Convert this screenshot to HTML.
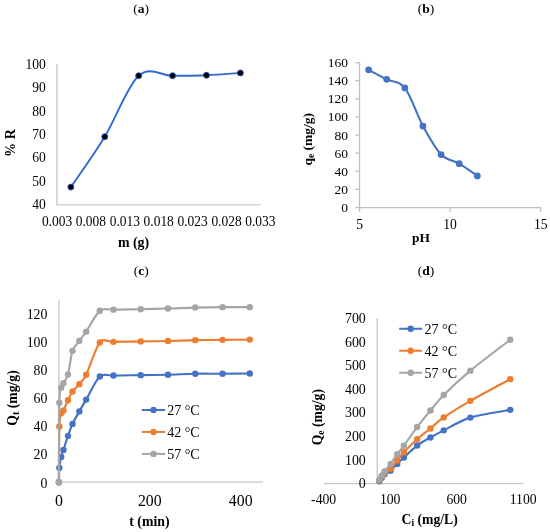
<!DOCTYPE html>
<html><head><meta charset="utf-8"><title>Figure</title>
<style>html,body{margin:0;padding:0;background:#fff}svg{display:block}text{font-family:"Liberation Serif", serif;fill:#000}</style>
</head><body>
<svg width="550" height="532" viewBox="0 0 550 532">
<rect width="550" height="532" fill="#fff"/>
<path d="M57.00 64.00 V205.50" fill="none" stroke="#d9d9d9" stroke-width="2"/>
<path d="M56.00 204.80 H261.00" fill="none" stroke="#d6d6d6" stroke-width="1.6"/>
<text x="0.00" y="0.00" font-size="14.5" text-anchor="end" transform="translate(45.70 209.30) scale(0.935 1)">40</text>
<text x="0.00" y="0.00" font-size="14.5" text-anchor="end" transform="translate(45.70 185.85) scale(0.935 1)">50</text>
<text x="0.00" y="0.00" font-size="14.5" text-anchor="end" transform="translate(45.70 162.40) scale(0.935 1)">60</text>
<text x="0.00" y="0.00" font-size="14.5" text-anchor="end" transform="translate(45.70 138.95) scale(0.935 1)">70</text>
<text x="0.00" y="0.00" font-size="14.5" text-anchor="end" transform="translate(45.70 115.50) scale(0.935 1)">80</text>
<text x="0.00" y="0.00" font-size="14.5" text-anchor="end" transform="translate(45.70 92.05) scale(0.935 1)">90</text>
<text x="0.00" y="0.00" font-size="14.5" text-anchor="end" transform="translate(45.70 68.60) scale(0.935 1)">100</text>
<text x="0.00" y="0.00" font-size="14.4" text-anchor="middle" transform="translate(57.00 225.80) scale(0.935 1)">0.003</text>
<text x="0.00" y="0.00" font-size="14.4" text-anchor="middle" transform="translate(90.90 225.80) scale(0.935 1)">0.008</text>
<text x="0.00" y="0.00" font-size="14.4" text-anchor="middle" transform="translate(124.80 225.80) scale(0.935 1)">0.013</text>
<text x="0.00" y="0.00" font-size="14.4" text-anchor="middle" transform="translate(158.70 225.80) scale(0.935 1)">0.018</text>
<text x="0.00" y="0.00" font-size="14.4" text-anchor="middle" transform="translate(192.60 225.80) scale(0.935 1)">0.023</text>
<text x="0.00" y="0.00" font-size="14.4" text-anchor="middle" transform="translate(226.50 225.80) scale(0.935 1)">0.028</text>
<text x="0.00" y="0.00" font-size="14.4" text-anchor="middle" transform="translate(260.40 225.80) scale(0.935 1)">0.033</text>
<text x="133.50" y="246.80" font-size="13.9" text-anchor="middle" font-weight="bold">m (g)</text>
<text x="14.80" y="143.10" font-size="14.2" text-anchor="middle" font-weight="bold" transform="rotate(-90 14.80 143.10)">% R</text>
<path d="M70.86 187.11 C76.51 178.71 93.46 155.26 104.76 136.69 C116.06 118.13 127.36 85.89 138.66 75.72 C149.96 65.56 161.26 75.80 172.56 75.72 C183.86 75.65 195.16 75.73 206.46 75.26 C217.76 74.79 234.71 73.30 240.36 72.91" fill="none" stroke="#2f6bd0" stroke-width="1.9"/>
<circle cx="70.86" cy="187.11" r="3.0" fill="#000" stroke="#2a55c0" stroke-width="0.9"/>
<circle cx="104.76" cy="136.69" r="3.0" fill="#000" stroke="#2a55c0" stroke-width="0.9"/>
<circle cx="138.66" cy="75.72" r="3.0" fill="#000" stroke="#2a55c0" stroke-width="0.9"/>
<circle cx="172.56" cy="75.72" r="3.0" fill="#000" stroke="#2a55c0" stroke-width="0.9"/>
<circle cx="206.46" cy="75.26" r="3.0" fill="#000" stroke="#2a55c0" stroke-width="0.9"/>
<circle cx="240.36" cy="72.91" r="3.0" fill="#000" stroke="#2a55c0" stroke-width="0.9"/>
<text x="141.20" y="13.20" font-size="13.5" text-anchor="middle">(<tspan font-weight="bold">a</tspan>)</text>
<path d="M359.55 62.60 V207.60 H540.70 M359.55 207.60 h-4.3 M359.55 189.47 h-4.3 M359.55 171.35 h-4.3 M359.55 153.22 h-4.3 M359.55 135.10 h-4.3 M359.55 116.97 h-4.3 M359.55 98.85 h-4.3 M359.55 80.72 h-4.3 M359.55 62.60 h-4.3 M359.55 207.60 v4.3 M450.12 207.60 v4.3 M540.70 207.60 v4.3" fill="none" stroke="#bfbfbf" stroke-width="1.3"/>
<text x="348.10" y="212.10" font-size="13.5" text-anchor="end">0</text>
<text x="348.10" y="193.97" font-size="13.5" text-anchor="end">20</text>
<text x="348.10" y="175.85" font-size="13.5" text-anchor="end">40</text>
<text x="348.10" y="157.72" font-size="13.5" text-anchor="end">60</text>
<text x="348.10" y="139.60" font-size="13.5" text-anchor="end">80</text>
<text x="348.10" y="121.47" font-size="13.5" text-anchor="end">100</text>
<text x="348.10" y="103.35" font-size="13.5" text-anchor="end">120</text>
<text x="348.10" y="85.22" font-size="13.5" text-anchor="end">140</text>
<text x="348.10" y="67.10" font-size="13.5" text-anchor="end">160</text>
<text x="359.55" y="228.50" font-size="13.6" text-anchor="middle">5</text>
<text x="450.12" y="228.50" font-size="13.6" text-anchor="middle">10</text>
<text x="540.70" y="228.50" font-size="13.6" text-anchor="middle">15</text>
<text x="421.00" y="241.70" font-size="13.4" text-anchor="middle" font-weight="bold">pH</text>
<text x="311.80" y="139.20" font-size="13.5" text-anchor="middle" font-weight="bold" transform="rotate(-90 311.80 139.20)">q<tspan font-size="9.5" dy="2.2">e</tspan><tspan dy="-2.2"> (mg/g)</tspan></text>
<path d="M368.61 69.85 C371.63 71.44 380.68 76.34 386.72 79.37 C392.76 82.39 398.80 80.20 404.84 87.97 C410.88 95.75 416.91 114.94 422.95 126.04 C428.99 137.14 435.03 148.32 441.07 154.58 C447.11 160.85 453.14 160.10 459.18 163.65 C465.22 167.20 474.28 173.84 477.30 175.88" fill="none" stroke="#4472c4" stroke-width="2.1"/>
<circle cx="368.61" cy="69.85" r="3.4" fill="#4472c4"/>
<circle cx="386.72" cy="79.37" r="3.4" fill="#4472c4"/>
<circle cx="404.84" cy="87.97" r="3.4" fill="#4472c4"/>
<circle cx="422.95" cy="126.04" r="3.4" fill="#4472c4"/>
<circle cx="441.07" cy="154.58" r="3.4" fill="#4472c4"/>
<circle cx="459.18" cy="163.65" r="3.4" fill="#4472c4"/>
<circle cx="477.30" cy="175.88" r="3.4" fill="#4472c4"/>
<text x="425.90" y="13.20" font-size="13.5" text-anchor="middle">(<tspan font-weight="bold">b</tspan>)</text>
<path d="M58.90 300.00 V482.20 H263.00" fill="none" stroke="#c6c6c6" stroke-width="1.3"/>
<text x="0.00" y="0.00" font-size="15" text-anchor="end" transform="translate(47.40 487.50) scale(0.92 1)">0</text>
<text x="0.00" y="0.00" font-size="15" text-anchor="end" transform="translate(47.40 459.40) scale(0.92 1)">20</text>
<text x="0.00" y="0.00" font-size="15" text-anchor="end" transform="translate(47.40 431.30) scale(0.92 1)">40</text>
<text x="0.00" y="0.00" font-size="15" text-anchor="end" transform="translate(47.40 403.20) scale(0.92 1)">60</text>
<text x="0.00" y="0.00" font-size="15" text-anchor="end" transform="translate(47.40 375.10) scale(0.92 1)">80</text>
<text x="0.00" y="0.00" font-size="15" text-anchor="end" transform="translate(47.40 347.00) scale(0.92 1)">100</text>
<text x="0.00" y="0.00" font-size="15" text-anchor="end" transform="translate(47.40 318.90) scale(0.92 1)">120</text>
<text x="58.90" y="506.10" font-size="15.8" text-anchor="middle">0</text>
<text x="149.80" y="506.10" font-size="15.8" text-anchor="middle">200</text>
<text x="240.70" y="506.10" font-size="15.8" text-anchor="middle">400</text>
<text x="149.40" y="526.00" font-size="13.8" text-anchor="middle" font-weight="bold">t (min)</text>
<text x="16.90" y="398.00" font-size="13.7" text-anchor="middle" font-weight="bold" transform="rotate(-90 16.90 398.00)">Q<tspan font-size="10" dy="2.2">t</tspan><tspan dy="-2.2"> (mg/g)</tspan></text>
<path d="M58.90 482.20 C58.97 480.00 59.00 471.76 59.35 467.87 C59.70 463.98 60.54 459.68 61.17 456.91 C61.80 454.14 62.40 453.13 63.45 449.88 C64.49 446.64 66.59 439.83 67.99 435.83 C69.39 431.84 70.79 427.65 72.53 423.89 C74.28 420.13 77.25 415.13 79.35 411.39 C81.45 407.65 83.02 404.95 86.17 399.59 C89.32 394.23 95.61 380.24 99.81 376.54 C104.00 372.85 107.15 375.78 113.44 375.56 C119.73 375.34 132.32 375.27 140.71 375.14 C149.10 375.01 159.59 374.93 167.98 374.72 C176.37 374.50 186.86 373.89 195.25 373.73 C203.64 373.58 214.13 373.78 222.52 373.73 C230.91 373.69 245.59 373.50 249.79 373.45" fill="none" stroke="#4472c4" stroke-width="2.15" stroke-linejoin="round"/>
<circle cx="58.90" cy="482.20" r="3.2" fill="#4472c4"/>
<circle cx="59.35" cy="467.87" r="3.2" fill="#4472c4"/>
<circle cx="61.17" cy="456.91" r="3.2" fill="#4472c4"/>
<circle cx="63.45" cy="449.88" r="3.2" fill="#4472c4"/>
<circle cx="67.99" cy="435.83" r="3.2" fill="#4472c4"/>
<circle cx="72.53" cy="423.89" r="3.2" fill="#4472c4"/>
<circle cx="79.35" cy="411.39" r="3.2" fill="#4472c4"/>
<circle cx="86.17" cy="399.59" r="3.2" fill="#4472c4"/>
<circle cx="99.81" cy="376.54" r="3.2" fill="#4472c4"/>
<circle cx="113.44" cy="375.56" r="3.2" fill="#4472c4"/>
<circle cx="140.71" cy="375.14" r="3.2" fill="#4472c4"/>
<circle cx="167.98" cy="374.72" r="3.2" fill="#4472c4"/>
<circle cx="195.25" cy="373.73" r="3.2" fill="#4472c4"/>
<circle cx="222.52" cy="373.73" r="3.2" fill="#4472c4"/>
<circle cx="249.79" cy="373.45" r="3.2" fill="#4472c4"/>
<path d="M58.90 482.20 C58.97 473.64 59.00 437.15 59.35 426.56 C59.70 415.97 60.54 415.82 61.17 413.36 C61.80 410.89 62.40 412.56 63.45 410.54 C64.49 408.53 66.59 403.23 67.99 400.29 C69.39 397.35 70.79 393.92 72.53 391.44 C74.28 388.95 77.25 386.70 79.35 384.13 C81.45 381.56 83.02 381.12 86.17 374.72 C89.32 368.32 95.61 347.60 99.81 342.54 C104.00 337.49 107.15 342.01 113.44 341.84 C119.73 341.67 132.32 341.55 140.71 341.42 C149.10 341.29 159.59 341.19 167.98 341.00 C176.37 340.80 186.86 340.33 195.25 340.15 C203.64 339.98 214.13 339.96 222.52 339.87 C230.91 339.79 245.59 339.64 249.79 339.59" fill="none" stroke="#ed7d31" stroke-width="2.15" stroke-linejoin="round"/>
<circle cx="58.90" cy="482.20" r="3.2" fill="#ed7d31"/>
<circle cx="59.35" cy="426.56" r="3.2" fill="#ed7d31"/>
<circle cx="61.17" cy="413.36" r="3.2" fill="#ed7d31"/>
<circle cx="63.45" cy="410.54" r="3.2" fill="#ed7d31"/>
<circle cx="67.99" cy="400.29" r="3.2" fill="#ed7d31"/>
<circle cx="72.53" cy="391.44" r="3.2" fill="#ed7d31"/>
<circle cx="79.35" cy="384.13" r="3.2" fill="#ed7d31"/>
<circle cx="86.17" cy="374.72" r="3.2" fill="#ed7d31"/>
<circle cx="99.81" cy="342.54" r="3.2" fill="#ed7d31"/>
<circle cx="113.44" cy="341.84" r="3.2" fill="#ed7d31"/>
<circle cx="140.71" cy="341.42" r="3.2" fill="#ed7d31"/>
<circle cx="167.98" cy="341.00" r="3.2" fill="#ed7d31"/>
<circle cx="195.25" cy="340.15" r="3.2" fill="#ed7d31"/>
<circle cx="222.52" cy="339.87" r="3.2" fill="#ed7d31"/>
<circle cx="249.79" cy="339.59" r="3.2" fill="#ed7d31"/>
<path d="M58.90 482.20 C58.97 469.99 59.00 417.36 59.35 402.82 C59.70 388.27 60.54 390.67 61.17 387.64 C61.80 384.62 62.40 385.18 63.45 383.15 C64.49 381.12 66.59 379.41 67.99 374.44 C69.39 369.46 70.79 356.00 72.53 350.83 C74.28 345.67 77.25 343.82 79.35 340.86 C81.45 337.90 83.02 336.21 86.17 331.58 C89.32 326.96 95.61 314.16 99.81 310.79 C104.00 307.42 107.15 309.90 113.44 309.67 C119.73 309.43 132.32 309.42 140.71 309.24 C149.10 309.07 159.59 308.80 167.98 308.54 C176.37 308.28 186.86 307.77 195.25 307.56 C203.64 307.34 214.13 307.20 222.52 307.14 C230.91 307.07 245.59 307.14 249.79 307.14" fill="none" stroke="#a5a5a5" stroke-width="2.15" stroke-linejoin="round"/>
<circle cx="58.90" cy="482.20" r="3.2" fill="#a5a5a5"/>
<circle cx="59.35" cy="402.82" r="3.2" fill="#a5a5a5"/>
<circle cx="61.17" cy="387.64" r="3.2" fill="#a5a5a5"/>
<circle cx="63.45" cy="383.15" r="3.2" fill="#a5a5a5"/>
<circle cx="67.99" cy="374.44" r="3.2" fill="#a5a5a5"/>
<circle cx="72.53" cy="350.83" r="3.2" fill="#a5a5a5"/>
<circle cx="79.35" cy="340.86" r="3.2" fill="#a5a5a5"/>
<circle cx="86.17" cy="331.58" r="3.2" fill="#a5a5a5"/>
<circle cx="99.81" cy="310.79" r="3.2" fill="#a5a5a5"/>
<circle cx="113.44" cy="309.67" r="3.2" fill="#a5a5a5"/>
<circle cx="140.71" cy="309.24" r="3.2" fill="#a5a5a5"/>
<circle cx="167.98" cy="308.54" r="3.2" fill="#a5a5a5"/>
<circle cx="195.25" cy="307.56" r="3.2" fill="#a5a5a5"/>
<circle cx="222.52" cy="307.14" r="3.2" fill="#a5a5a5"/>
<circle cx="249.79" cy="307.14" r="3.2" fill="#a5a5a5"/>
<path d="M141.8 410.00 H165.1" stroke="#4472c4" stroke-width="2"/>
<circle cx="153.5" cy="410.00" r="3.2" fill="#4472c4"/>
<text x="167.20" y="414.70" font-size="14" text-anchor="start">27 °C</text>
<path d="M141.8 431.95 H165.1" stroke="#ed7d31" stroke-width="2"/>
<circle cx="153.5" cy="431.95" r="3.2" fill="#ed7d31"/>
<text x="167.20" y="436.65" font-size="14" text-anchor="start">42 °C</text>
<path d="M141.8 453.90 H165.1" stroke="#a5a5a5" stroke-width="2"/>
<circle cx="153.5" cy="453.90" r="3.2" fill="#a5a5a5"/>
<text x="167.20" y="458.60" font-size="14" text-anchor="start">57 °C</text>
<text x="141.20" y="274.90" font-size="13.5" text-anchor="middle">(<tspan font-weight="bold">c</tspan>)</text>
<path d="M377.25 318.20 V483.70" fill="none" stroke="#c6c6c6" stroke-width="1.35"/>
<path d="M324.00 483.70 H523.50" fill="none" stroke="#c6c6c6" stroke-width="1.3"/>
<text x="365.80" y="488.10" font-size="13.9" text-anchor="end">0</text>
<text x="365.80" y="464.50" font-size="13.9" text-anchor="end">100</text>
<text x="365.80" y="440.90" font-size="13.9" text-anchor="end">200</text>
<text x="365.80" y="417.30" font-size="13.9" text-anchor="end">300</text>
<text x="365.80" y="393.70" font-size="13.9" text-anchor="end">400</text>
<text x="365.80" y="370.10" font-size="13.9" text-anchor="end">500</text>
<text x="365.80" y="346.50" font-size="13.9" text-anchor="end">600</text>
<text x="365.80" y="322.90" font-size="13.9" text-anchor="end">700</text>
<text x="323.65" y="503.90" font-size="13.7" text-anchor="middle">-400</text>
<text x="390.15" y="503.90" font-size="13.7" text-anchor="middle">100</text>
<text x="456.65" y="503.90" font-size="13.7" text-anchor="middle">600</text>
<text x="523.15" y="503.90" font-size="13.7" text-anchor="middle">1100</text>
<text x="429.70" y="523.60" font-size="13.7" text-anchor="middle" font-weight="bold">C<tspan font-size="9.5" dy="2.2">i</tspan><tspan dy="-2.2"> (mg/L)</tspan></text>
<text x="322.00" y="417.20" font-size="13.7" text-anchor="middle" font-weight="bold" transform="rotate(-90 322.00 417.20)">Q<tspan font-size="9.5" dy="2.2">e</tspan><tspan dy="-2.2"> (mg/g)</tspan></text>
<path d="M379.38 481.34 C379.78 480.75 380.91 478.98 381.77 477.80 C382.64 476.62 383.10 475.46 384.56 474.26 C386.03 473.06 388.44 472.36 390.55 470.63 C392.66 468.89 394.98 466.06 397.20 463.88 C399.42 461.69 400.53 460.56 403.85 457.50 C407.18 454.45 412.72 448.91 417.15 445.56 C421.58 442.22 426.02 439.98 430.45 437.44 C434.88 434.91 437.10 433.67 443.75 430.36 C450.40 427.06 459.27 421.04 470.35 417.62 C481.43 414.20 503.60 411.13 510.25 409.83" fill="none" stroke="#4472c4" stroke-width="2.15" stroke-linejoin="round"/>
<circle cx="379.38" cy="481.34" r="3.2" fill="#4472c4"/>
<circle cx="381.77" cy="477.80" r="3.2" fill="#4472c4"/>
<circle cx="384.56" cy="474.26" r="3.2" fill="#4472c4"/>
<circle cx="390.55" cy="470.63" r="3.2" fill="#4472c4"/>
<circle cx="397.20" cy="463.88" r="3.2" fill="#4472c4"/>
<circle cx="403.85" cy="457.50" r="3.2" fill="#4472c4"/>
<circle cx="417.15" cy="445.56" r="3.2" fill="#4472c4"/>
<circle cx="430.45" cy="437.44" r="3.2" fill="#4472c4"/>
<circle cx="443.75" cy="430.36" r="3.2" fill="#4472c4"/>
<circle cx="470.35" cy="417.62" r="3.2" fill="#4472c4"/>
<circle cx="510.25" cy="409.83" r="3.2" fill="#4472c4"/>
<path d="M379.38 480.40 C379.78 479.77 380.91 477.88 381.77 476.62 C382.64 475.36 383.10 474.14 384.56 472.84 C386.03 471.55 388.44 470.88 390.55 468.83 C392.66 466.79 394.98 463.33 397.20 460.57 C399.42 457.82 400.53 455.87 403.85 452.31 C407.18 448.75 412.72 443.19 417.15 439.21 C421.58 435.24 426.02 432.11 430.45 428.48 C434.88 424.84 437.10 421.99 443.75 417.38 C450.40 412.78 459.27 407.24 470.35 400.86 C481.43 394.49 503.60 382.77 510.25 379.15" fill="none" stroke="#ed7d31" stroke-width="2.15" stroke-linejoin="round"/>
<circle cx="379.38" cy="480.40" r="3.2" fill="#ed7d31"/>
<circle cx="381.77" cy="476.62" r="3.2" fill="#ed7d31"/>
<circle cx="384.56" cy="472.84" r="3.2" fill="#ed7d31"/>
<circle cx="390.55" cy="468.83" r="3.2" fill="#ed7d31"/>
<circle cx="397.20" cy="460.57" r="3.2" fill="#ed7d31"/>
<circle cx="403.85" cy="452.31" r="3.2" fill="#ed7d31"/>
<circle cx="417.15" cy="439.21" r="3.2" fill="#ed7d31"/>
<circle cx="430.45" cy="428.48" r="3.2" fill="#ed7d31"/>
<circle cx="443.75" cy="417.38" r="3.2" fill="#ed7d31"/>
<circle cx="470.35" cy="400.86" r="3.2" fill="#ed7d31"/>
<circle cx="510.25" cy="379.15" r="3.2" fill="#ed7d31"/>
<path d="M379.38 479.92 C379.78 479.22 380.91 477.09 381.77 475.68 C382.64 474.26 383.10 473.39 384.56 471.43 C386.03 469.46 388.44 466.73 390.55 463.88 C392.66 461.02 394.98 457.32 397.20 454.29 C399.42 451.27 400.53 450.24 403.85 445.70 C407.18 441.16 412.72 432.92 417.15 427.06 C421.58 421.20 426.02 415.89 430.45 410.54 C434.88 405.19 437.10 401.61 443.75 394.96 C450.40 388.32 459.27 379.86 470.35 370.66 C481.43 361.45 503.60 344.89 510.25 339.74" fill="none" stroke="#a5a5a5" stroke-width="2.15" stroke-linejoin="round"/>
<circle cx="379.38" cy="479.92" r="3.2" fill="#a5a5a5"/>
<circle cx="381.77" cy="475.68" r="3.2" fill="#a5a5a5"/>
<circle cx="384.56" cy="471.43" r="3.2" fill="#a5a5a5"/>
<circle cx="390.55" cy="463.88" r="3.2" fill="#a5a5a5"/>
<circle cx="397.20" cy="454.29" r="3.2" fill="#a5a5a5"/>
<circle cx="403.85" cy="445.70" r="3.2" fill="#a5a5a5"/>
<circle cx="417.15" cy="427.06" r="3.2" fill="#a5a5a5"/>
<circle cx="430.45" cy="410.54" r="3.2" fill="#a5a5a5"/>
<circle cx="443.75" cy="394.96" r="3.2" fill="#a5a5a5"/>
<circle cx="470.35" cy="370.66" r="3.2" fill="#a5a5a5"/>
<circle cx="510.25" cy="339.74" r="3.2" fill="#a5a5a5"/>
<path d="M399.2 328.75 H422.1" stroke="#4472c4" stroke-width="2"/>
<circle cx="410.7" cy="328.75" r="3.2" fill="#4472c4"/>
<text x="424.60" y="333.75" font-size="14" text-anchor="start">27 °C</text>
<path d="M399.2 350.75 H422.1" stroke="#ed7d31" stroke-width="2"/>
<circle cx="410.7" cy="350.75" r="3.2" fill="#ed7d31"/>
<text x="424.60" y="355.75" font-size="14" text-anchor="start">42 °C</text>
<path d="M399.2 372.75 H422.1" stroke="#a5a5a5" stroke-width="2"/>
<circle cx="410.7" cy="372.75" r="3.2" fill="#a5a5a5"/>
<text x="424.60" y="377.75" font-size="14" text-anchor="start">57 °C</text>
<text x="425.90" y="274.90" font-size="13.5" text-anchor="middle">(<tspan font-weight="bold">d</tspan>)</text>
</svg>
</body></html>
